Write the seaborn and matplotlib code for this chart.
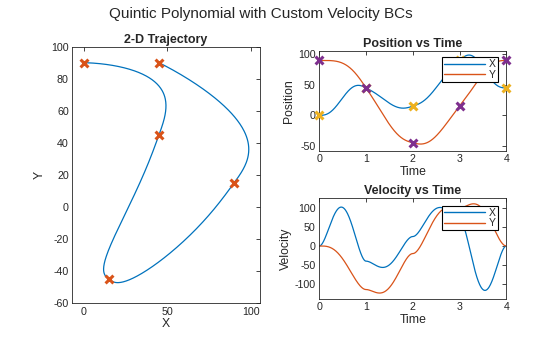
import numpy as np
import pandas as pd
import matplotlib
matplotlib.use("Agg")
import matplotlib.pyplot as plt
import seaborn as sns

# Waypoints and their times
time_points = [0, 1, 2, 3, 4]
way_x = [0, 45, 15, 90, 45]
way_y = [90, 45, -45, 15, 90]
# Velocity boundary conditions at each waypoint (accelerations held at zero)
vel_x = [0, -40, 25, 70, 0]
vel_y = [0, -115, -20, 100, 0]

BLUE = "#0072BD"
ORANGE = "#D95319"
YELLOW = "#EDB120"
PURPLE = "#7E2F8E"
INK = "#262626"


def quintic_traj(tp, q, v, t):
    """Piecewise quintic through q with velocities v and zero accelerations."""
    pos = np.zeros_like(t)
    vel = np.zeros_like(t)
    for i in range(len(tp) - 1):
        t0, t1 = tp[i], tp[i + 1]
        T = t1 - t0
        A = np.array([
            [1, 0, 0, 0, 0, 0],
            [0, 1, 0, 0, 0, 0],
            [0, 0, 2, 0, 0, 0],
            [1, T, T**2, T**3, T**4, T**5],
            [0, 1, 2 * T, 3 * T**2, 4 * T**3, 5 * T**4],
            [0, 0, 2, 6 * T, 12 * T**2, 20 * T**3],
        ], dtype=float)
        b = np.array([q[i], v[i], 0, q[i + 1], v[i + 1], 0], dtype=float)
        c = np.linalg.solve(A, b)
        if i == len(tp) - 2:
            m = (t >= t0) & (t <= t1)
        else:
            m = (t >= t0) & (t < t1)
        s = t[m] - t0
        pos[m] = sum(c[k] * s**k for k in range(6))
        vel[m] = sum(k * c[k] * s**(k - 1) for k in range(1, 6))
    return pos, vel


tvec = np.linspace(0, 4, 801)
px, vx = quintic_traj(time_points, way_x, vel_x, tvec)
py, vy = quintic_traj(time_points, way_y, vel_y, tvec)

traj = pd.DataFrame({"t": tvec, "x": px, "y": py, "vx": vx, "vy": vy})
pos_long = pd.concat([
    pd.DataFrame({"Time": tvec, "value": px, "axis": "X"}),
    pd.DataFrame({"Time": tvec, "value": py, "axis": "Y"}),
])
vel_long = pd.concat([
    pd.DataFrame({"Time": tvec, "value": vx, "axis": "X"}),
    pd.DataFrame({"Time": tvec, "value": vy, "axis": "Y"}),
])
wp = pd.DataFrame({"t": time_points, "x": way_x, "y": way_y})

sns.set_theme(style="white")
plt.rcParams["font.family"] = ["Liberation Sans", "DejaVu Sans"]
plt.rcParams.update({
    "axes.unicode_minus": False,
    "axes.edgecolor": INK,
    "axes.linewidth": 0.6,
    "xtick.color": INK,
    "ytick.color": INK,
    "text.color": INK,
    "axes.labelcolor": INK,
    "xtick.direction": "in",
    "ytick.direction": "in",
    "xtick.major.size": 3,
    "ytick.major.size": 3,
    "xtick.major.width": 0.6,
    "ytick.major.width": 0.6,
    "xtick.major.pad": 2.5,
    "ytick.major.pad": 2.5,
})

fig = plt.figure(figsize=(5.6, 3.37), dpi=100)
W, H = 560, 337


def add_axes_px(x0, y0, x1, y1):
    return fig.add_axes([x0 / W, 1 - y1 / H, (x1 - x0) / W, (y1 - y0) / H])


ax1 = add_axes_px(72.3, 46.7, 260, 303.3)
ax2 = add_axes_px(319.3, 50.7, 506.3, 150.7)
ax3 = add_axes_px(319.3, 198.3, 506.3, 299)

TICK_FS = 7.7
LABEL_FS = 8.8
TITLE_FS = 9


def style_axes(ax):
    ax.tick_params(labelsize=TICK_FS, top=True, right=True, which="major")
    for sp in ax.spines.values():
        sp.set_visible(True)
        sp.set_color(INK)
        sp.set_linewidth(0.6)


MARK = dict(marker="x", s=32, linewidth=2.2, zorder=3, clip_on=False)

# 2-D trajectory
sns.lineplot(data=traj, x="x", y="y", sort=False, estimator=None,
             color=BLUE, linewidth=0.9, ax=ax1)
sns.scatterplot(data=wp, x="x", y="y", color=ORANGE, ax=ax1, **MARK)
ax1.set_xlim(-7, 105.6)
ax1.set_ylim(-60, 100)
ax1.set_xticks([0, 50, 100])
ax1.set_yticks(np.arange(-60, 101, 20))
ax1.set_xlabel("X", fontsize=LABEL_FS, labelpad=1)
ax1.set_ylabel("Y", fontsize=LABEL_FS, labelpad=4)
ax1.set_title("2-D Trajectory", fontsize=TITLE_FS, fontweight="bold", pad=3)
style_axes(ax1)

# Position vs time
pal = {"X": BLUE, "Y": ORANGE}
sns.lineplot(data=pos_long, x="Time", y="value", hue="axis", palette=pal,
             linewidth=0.9, ax=ax2)
sns.scatterplot(data=wp, x="t", y="x", color=YELLOW, ax=ax2, **MARK)
sns.scatterplot(data=wp, x="t", y="y", color=PURPLE, ax=ax2, **MARK)
ax2.set_xlim(0, 4)
ax2.set_ylim(-58, 106)
ax2.set_xticks([0, 1, 2, 3, 4])
ax2.set_yticks([-50, 0, 50, 100])
ax2.set_xlabel("Time", fontsize=LABEL_FS, labelpad=1)
ax2.set_ylabel("Position", fontsize=LABEL_FS, labelpad=2)
ax2.set_title("Position vs Time", fontsize=TITLE_FS, fontweight="bold", pad=3)
style_axes(ax2)

# Velocity vs time
sns.lineplot(data=vel_long, x="Time", y="value", hue="axis", palette=pal,
             linewidth=0.9, ax=ax3)
ax3.set_xlim(0, 4)
ax3.set_ylim(-140, 126)
ax3.set_xticks([0, 1, 2, 3, 4])
ax3.set_yticks([-100, -50, 0, 50, 100])
ax3.set_xlabel("Time", fontsize=LABEL_FS, labelpad=1)
ax3.set_ylabel("Velocity", fontsize=LABEL_FS, labelpad=2)
ax3.set_title("Velocity vs Time", fontsize=TITLE_FS, fontweight="bold", pad=3)
style_axes(ax3)

for ax, anchor in ((ax2, (0.957, 0.934)), (ax3, (0.957, 0.927))):
    handles, labels = ax.get_legend_handles_labels()
    leg = ax.legend(handles[:2], labels[:2], loc="upper right",
                    bbox_to_anchor=anchor, borderaxespad=0,
                    fontsize=7.5, handlelength=3.9, handletextpad=0.4,
                    borderpad=0.2, labelspacing=0.05, frameon=True,
                    fancybox=False, framealpha=1)
    leg.get_frame().set_edgecolor("black")
    leg.get_frame().set_linewidth(0.8)
    leg.set_zorder(10)
    for line in leg.get_lines():
        line.set_linewidth(1.0)

fig.suptitle("Quintic Polynomial with Custom Velocity BCs", fontsize=11,
             x=261 / W, y=1 - 7 / H, va="top")

fig.savefig("out.png", dpi=100, facecolor="white")
